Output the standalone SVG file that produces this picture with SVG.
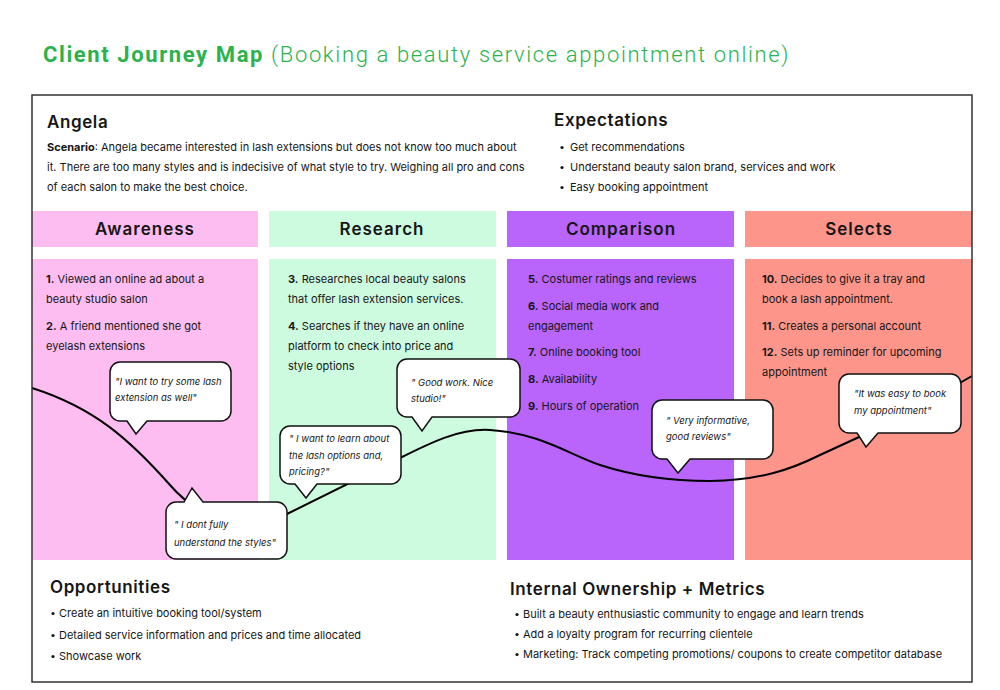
<svg xmlns="http://www.w3.org/2000/svg" width="1000" height="690" viewBox="0 0 1000 690">
<style>
.t{font-family:Inter,"Liberation Sans",sans-serif;fill:#161616}
.h{font-size:17px;font-weight:600;letter-spacing:0.6px}
.hd{font-size:17px;font-weight:600;letter-spacing:1px;text-anchor:middle}
.b{font-size:11px}
.q{font-size:9.5px;font-style:italic}
.bub{fill:#fff;stroke:#111;stroke-width:1.5}
.dot{fill:#161616}
</style>
<rect width="1000" height="690" fill="#fff"/>
<text x="43" y="62" style="font-family:Roboto,'Liberation Sans',sans-serif;font-size:22px;fill:#2bb24c"><tspan font-weight="700" letter-spacing="1.6">Client Journey Map</tspan><tspan font-weight="300" letter-spacing="1.65"> (Booking a beauty service appointment online)</tspan></text>

<g id="persona">
<text class="t h" x="47" y="128">Angela</text>
<text class="t b" x="47" y="151"><tspan font-weight="700">Scenario</tspan>: Angela became interested in lash extensions but does not know too much about</text>
<text class="t b" x="47" y="171">it. There are too many styles and is indecisive of what style to try. Weighing all pro and cons</text>
<text class="t b" x="47" y="191">of each salon to make the best choice.</text>
</g>
<g id="expectations">
<text class="t h" x="554" y="126">Expectations</text>
<circle class="dot" cx="562" cy="147.5" r="1.6"/><text class="t b" x="570" y="151">Get recommendations</text>
<circle class="dot" cx="562" cy="167.5" r="1.6"/><text class="t b" x="570" y="171">Understand beauty salon brand, services and work</text>
<circle class="dot" cx="562" cy="187.5" r="1.6"/><text class="t b" x="570" y="191">Easy booking appointment</text>
</g>

<g id="awareness">
<rect x="32" y="211" width="226" height="36" fill="#fdbdf0"/>
<rect x="32" y="259" width="226" height="301" fill="#fdbdf0"/>
<text class="t hd" x="145" y="235">Awareness</text>
<text class="t b" x="46" y="283"><tspan font-weight="700">1.</tspan> Viewed an online ad about a</text>
<text class="t b" x="46" y="303">beauty studio salon</text>
<text class="t b" x="46" y="330"><tspan font-weight="700">2.</tspan> A friend mentioned she got</text>
<text class="t b" x="46" y="350">eyelash extensions</text>
</g>
<g id="research">
<rect x="269" y="211" width="227" height="36" fill="#cdfbdf"/>
<rect x="269" y="259" width="227" height="301" fill="#cdfbdf"/>
<text class="t hd" x="382" y="235">Research</text>
<text class="t b" x="288" y="283"><tspan font-weight="700">3.</tspan> Researches local beauty salons</text>
<text class="t b" x="288" y="303">that offer lash extension services.</text>
<text class="t b" x="288" y="330"><tspan font-weight="700">4.</tspan> Searches if they have an online</text>
<text class="t b" x="288" y="350">platform to check into price and</text>
<text class="t b" x="288" y="370">style options</text>
</g>
<g id="comparison">
<rect x="507" y="211" width="227" height="36" fill="#b964fb"/>
<rect x="507" y="259" width="227" height="301" fill="#b964fb"/>
<text class="t hd" x="621" y="235">Comparison</text>
<text class="t b" x="528" y="283"><tspan font-weight="700">5.</tspan> Costumer ratings and reviews</text>
<text class="t b" x="528" y="310"><tspan font-weight="700">6.</tspan> Social media work and</text>
<text class="t b" x="528" y="330">engagement</text>
<text class="t b" x="528" y="356"><tspan font-weight="700">7.</tspan> Online booking tool</text>
<text class="t b" x="528" y="383"><tspan font-weight="700">8.</tspan> Availability</text>
<text class="t b" x="528" y="410"><tspan font-weight="700">9.</tspan> Hours of operation</text>
</g>
<g id="selects">
<rect x="745" y="211" width="227" height="36" fill="#fd958a"/>
<rect x="745" y="259" width="227" height="301" fill="#fd958a"/>
<text class="t hd" x="859" y="235">Selects</text>
<text class="t b" x="762" y="283"><tspan font-weight="700">10.</tspan> Decides to give it a tray and</text>
<text class="t b" x="762" y="303">book a lash appointment.</text>
<text class="t b" x="762" y="330"><tspan font-weight="700">11.</tspan> Creates a personal account</text>
<text class="t b" x="762" y="356"><tspan font-weight="700">12.</tspan> Sets up reminder for upcoming</text>
<text class="t b" x="762" y="376">appointment</text>
</g>

<g id="connectors">
<path d="M32,388 C95,408 130,440 170,485 C200,520 240,530 287,514 L400,458 C430,443 460,428 490,430 C540,433 570,455 600,465 C640,478 680,481 710,481 C760,480 790,470 820,455 L870,432 C900,418 930,400 972,376" fill="none" stroke="#000" stroke-width="2"/>
</g>

<g id="bubble1">
<path class="bub" d="M120,362 H221 A10,10 0 0 1 231,372 V411 A10,10 0 0 1 221,421 H147 L136,434 L127,421 H120 A10,10 0 0 1 110,411 V372 A10,10 0 0 1 120,362 Z"/>
<text class="t q" x="115" y="385">"I want to try some lash</text>
<text class="t q" x="115" y="401">extension as well"</text>
</g>
<g id="bubble2">
<path class="bub" d="M176,502 H184 L192,488 L203,502 H277 A10,10 0 0 1 287,512 V549 A10,10 0 0 1 277,559 H176 A10,10 0 0 1 166,549 V512 A10,10 0 0 1 176,502 Z"/>
<text class="t q" x="174" y="528">" I dont fully</text>
<text class="t q" x="174" y="546">understand the styles"</text>
</g>
<g id="bubble3">
<path class="bub" d="M290,426 H391 A10,10 0 0 1 401,436 V474 A10,10 0 0 1 391,484 H317 L306,498 L295,484 H290 A10,10 0 0 1 280,474 V436 A10,10 0 0 1 290,426 Z"/>
<text class="t q" x="289" y="442">" I want to learn about</text>
<text class="t q" x="289" y="459">the lash options and,</text>
<text class="t q" x="289" y="475">pricing?"</text>
</g>
<g id="bubble4">
<path class="bub" d="M407,359 H510 A10,10 0 0 1 520,369 V407 A10,10 0 0 1 510,417 H432 L422,431 L412,417 H407 A10,10 0 0 1 397,407 V369 A10,10 0 0 1 407,359 Z"/>
<text class="t q" x="411" y="386">" Good work. Nice</text>
<text class="t q" x="411" y="402">studio!"</text>
</g>
<g id="bubble5">
<path class="bub" d="M662,400 H763 A10,10 0 0 1 773,410 V449 A10,10 0 0 1 763,459 H690 L678,473 L667,459 H662 A10,10 0 0 1 652,449 V410 A10,10 0 0 1 662,400 Z"/>
<text class="t q" x="666" y="424">" Very informative,</text>
<text class="t q" x="666" y="440">good reviews"</text>
</g>
<g id="bubble6">
<path class="bub" d="M849,374 H951 A10,10 0 0 1 961,384 V423 A10,10 0 0 1 951,433 H878 L866,447 L857,433 H849 A10,10 0 0 1 839,423 V384 A10,10 0 0 1 849,374 Z"/>
<text class="t q" x="854" y="397">"It was easy to book</text>
<text class="t q" x="854" y="414">my appointment"</text>
</g>

<g id="opportunities">
<text class="t h" x="50" y="593">Opportunities</text>
<circle class="dot" cx="53" cy="613.5" r="1.6"/><text class="t b" x="59" y="617">Create an intuitive booking tool/system</text>
<circle class="dot" cx="53" cy="635.5" r="1.6"/><text class="t b" x="59" y="639">Detailed service information and prices and time allocated</text>
<circle class="dot" cx="53" cy="656.5" r="1.6"/><text class="t b" x="59" y="660">Showcase work</text>
</g>
<g id="metrics">
<text class="t h" x="510" y="595">Internal Ownership + Metrics</text>
<circle class="dot" cx="517" cy="614.5" r="1.6"/><text class="t b" x="523" y="618">Built a beauty enthusiastic community to engage and learn trends</text>
<circle class="dot" cx="517" cy="634.5" r="1.6"/><text class="t b" x="523" y="638">Add a loyalty program for recurring clientele</text>
<circle class="dot" cx="517" cy="654.5" r="1.6"/><text class="t b" x="523" y="658">Marketing: Track competing promotions/ coupons to create competitor database</text>
</g>

<rect x="32" y="95" width="940" height="587" fill="none" stroke="#333" stroke-width="1.5"/>
</svg>
